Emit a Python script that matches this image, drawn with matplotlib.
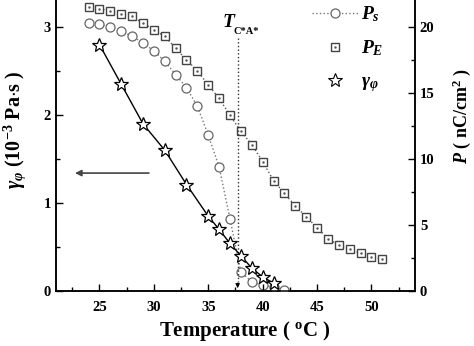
import matplotlib.pyplot as plt
import numpy as np
from matplotlib.ticker import MultipleLocator

plt.rcParams['font.family'] = 'Liberation Serif'
plt.rcParams['font.weight'] = 'bold'
plt.rcParams['axes.labelweight'] = 'bold'
plt.rcParams['mathtext.fontset'] = 'custom'
plt.rcParams['mathtext.rm'] = 'Liberation Serif:bold'
plt.rcParams['mathtext.it'] = 'Liberation Serif:italic:bold'
plt.rcParams['mathtext.bf'] = 'Liberation Serif:bold'

# viscosity gamma_phi (10^-3 Pa s)
t_gam = [25, 27, 29, 31, 33, 35, 36, 37, 38, 39, 40, 41]
gam = [2.80, 2.35, 1.90, 1.60, 1.21, 0.85, 0.70, 0.54, 0.40, 0.26, 0.16, 0.09]

# spontaneous polarization Ps (nC/cm2)
t_ps = [24, 25, 26, 27, 28, 29, 30, 31, 32, 33, 34, 35, 36, 37, 38, 39, 40, 41, 42]
ps = [20.3, 20.2, 20.0, 19.7, 19.3, 18.8, 18.2, 17.4, 16.4, 15.4, 14.0, 11.8,
      9.4, 5.45, 1.46, 0.68, 0.45, 0.28, 0.08]

# polarization from field PE (nC/cm2)
t_pe = [24, 25, 26, 27, 28, 29, 30, 31, 32, 33, 34, 35, 36, 37, 38, 39, 40,
        41, 42, 43, 44, 45, 46, 47, 48, 49, 50, 51]
pe = [21.5, 21.4, 21.2, 21.0, 20.8, 20.3, 19.8, 19.3, 18.4, 17.5, 16.7, 15.6,
      14.6, 13.3, 12.1, 11.1, 9.8, 8.36, 7.4, 6.44, 5.63, 4.80, 3.96, 3.48,
      3.16, 2.85, 2.60, 2.42]

t_ca = 37.7

fig = plt.figure(figsize=(4.74, 3.46), dpi=100)
ax = fig.add_axes([0.118, 0.159, 0.7575, 0.841])
ax2 = ax.twinx()

# right axis: polarization
ax2.plot(t_ps, ps, ls=':', color='#777777', lw=1.0, marker='o', ms=6.5,
         mfc='white', mec='#666666', mew=0.9, zorder=3)
ax2.plot(t_pe, pe, ls=':', color='#555555', lw=1.0, marker='s', ms=6.3,
         mfc='white', mec='#444444', mew=1.0, zorder=3)
ax2.plot(t_pe, pe, ls='none', marker='.', ms=1.5, color='#555555', zorder=4)

# left axis: viscosity
ax.plot(t_gam, gam, '-', color='black', lw=1.0, marker='*', ms=10.5,
        mfc='white', mec='black', mew=0.9, zorder=5)
ax.set_zorder(ax2.get_zorder() + 1)
ax.patch.set_visible(False)

ax.plot([t_ca, t_ca], [2.875, 0.1], ls=':', color='#333333', lw=1.0)
ax.annotate('', xy=(t_ca, 0.0), xytext=(t_ca, 0.12),
            arrowprops=dict(arrowstyle='-|>', color='black', lw=0.8,
                            mutation_scale=6))
ax.text(36.9, 3.05, r'$T$', fontsize=14, ha='center', va='center')
ax.text(38.45, 2.95, 'C*A*', fontsize=7.5, ha='center', va='center')

ax.annotate('', xy=(22.5, 1.34), xytext=(29.8, 1.34),
            arrowprops=dict(arrowstyle='-|>', color='#444444', lw=1.2,
                            mutation_scale=9))

ax.set_xlim(21, 54)
ax.set_ylim(0, 3.307)
ax2.set_ylim(0, 22.05)

ax.xaxis.set_major_locator(MultipleLocator(5))
ax.xaxis.set_minor_locator(MultipleLocator(2.5))
ax.yaxis.set_major_locator(MultipleLocator(1))
ax.yaxis.set_minor_locator(MultipleLocator(0.5))
ax2.yaxis.set_major_locator(MultipleLocator(5))
ax2.yaxis.set_minor_locator(MultipleLocator(2.5))

for a in (ax, ax2):
    a.tick_params(which='both', direction='in', labelsize=10.5, width=1.0)
    a.tick_params(which='major', length=5)
    a.tick_params(which='minor', length=3)
    a.spines['top'].set_visible(False)
    for s in a.spines.values():
        s.set_linewidth(1.1)
ax.tick_params(top=False, right=False)
ax.tick_params(axis='x', pad=7)

ax.set_xlabel('Temperature ( $^{\\mathrm{o}}$C )', fontsize=15)
ax.xaxis.set_label_coords(0.526, -0.097, transform=ax.transAxes)
ax.xaxis.label.set_va('top')
ax.set_ylabel(r'$\gamma_{\varphi}$ (10$^{-3}$ Pa$\cdot$s )', fontsize=14.5)
ax.yaxis.set_label_coords(-0.078, 0.555, transform=ax.transAxes)
ax2.set_ylabel(r'$P$ ( nC/cm$^{2}$ )', fontsize=13)
ax2.yaxis.set_label_coords(1.1, 0.60, transform=ax.transAxes)

lps_h = plt.Line2D([], [], ls=':', color='#777777', lw=1.0, marker='o', ms=6.5,
                   mfc='white', mec='#666666', mew=0.9)
lpe_h = plt.Line2D([], [], ls='none', marker='s', ms=5.5, mfc='white',
                   mec='#444444', mew=1.0)
dot_h = plt.Line2D([], [], ls='none', marker='.', ms=1.5, color='#555555')
gam_h = plt.Line2D([], [], ls='none', marker='*', ms=10, mfc='white',
                   mec='black', mew=0.8)
ax2.legend([lps_h, (lpe_h, dot_h), gam_h],
           [r'$P_s$', r'$P_E$', r'$\gamma_{\varphi}$'],
           loc='upper right', bbox_to_anchor=(0.961, 1.045), frameon=False,
           fontsize=14, handlelength=2.45, labelspacing=0.75,
           handletextpad=0.1)

fig.savefig('out.png', dpi=100)
